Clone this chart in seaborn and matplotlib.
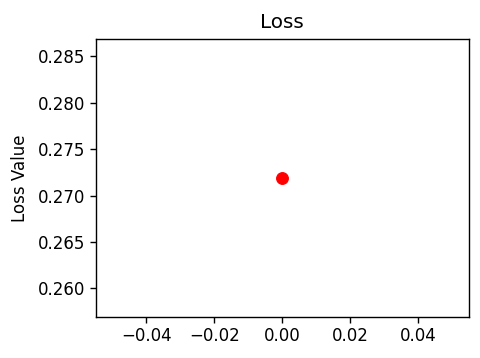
import matplotlib
matplotlib.use("Agg")
import matplotlib.pyplot as plt
import seaborn as sns
import pandas as pd

steps = [0]
loss_values = [0.2719]

df = pd.DataFrame({"step": steps, "loss": loss_values})

plt.rcParams.update({
    "font.size": 12,
    "axes.titlesize": 14.4,
    "axes.labelsize": 12,
    "xtick.labelsize": 12,
    "ytick.labelsize": 12,
    "xtick.major.size": 4.2,
    "ytick.major.size": 4.2,
    "xtick.major.width": 1.0,
    "ytick.major.width": 1.0,
    "axes.linewidth": 1.0,
})

fig = plt.figure(figsize=(4.8, 3.58), dpi=100)
ax = fig.add_axes([0.199, 0.1154, 0.778, 0.775])
sns.lineplot(data=df, x="step", y="loss", ax=ax, color="red", marker="o",
             markersize=8.5, markeredgecolor="red")
ax.set_title("Loss", pad=8)
ax.set_xlabel("")
ax.set_ylabel("Loss Value", labelpad=6)
fig.savefig("out.png", dpi=100)
